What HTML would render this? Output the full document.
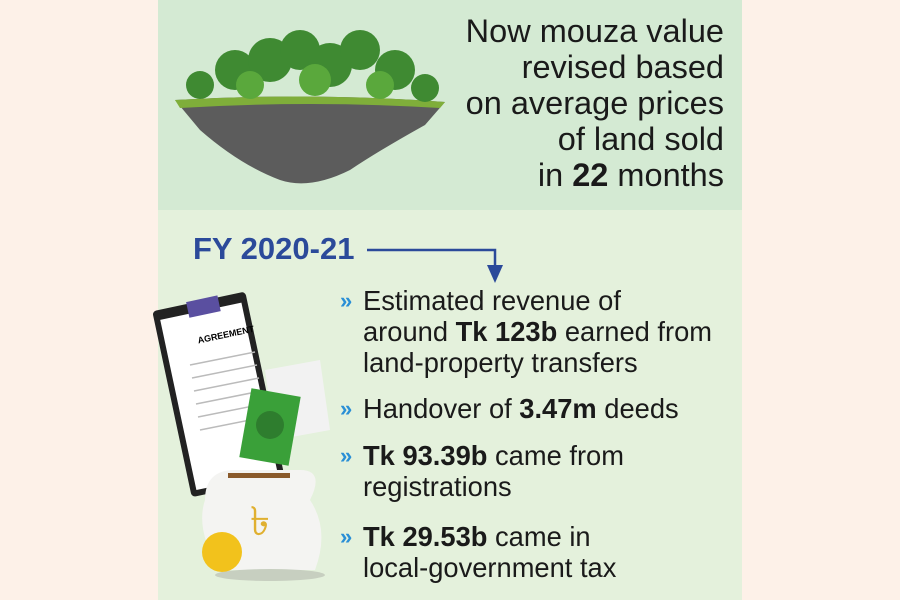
<!DOCTYPE html>
<html><head><meta charset="utf-8"><style>
body{margin:0;width:900px;height:600px;background:#fdf1e8;position:relative;overflow:hidden;font-family:"Liberation Sans",sans-serif}
.p{position:absolute;left:158px;width:584px}
.t{position:absolute;right:176px;top:13px;text-align:right;font-size:32.5px;line-height:36px;color:#1a1a1a}
.b{position:absolute;left:363px;font-size:27.3px;line-height:31px;color:#1a1a1a;white-space:nowrap}
.c{position:absolute;left:340px;color:#2a8fd6;font-size:22px;font-weight:bold;line-height:31px}
</style></head><body>
<div class="p" style="top:0;height:210px;background:#d4ead3"></div>
<div class="p" style="top:210px;height:390px;background:#e4f1dc"></div>
<svg style="position:absolute;left:0;top:0" width="900" height="600">
<path d="M175 100 Q310 92 445 102 L425 125 Q380 150 350 170 Q310 190 280 180 Q240 165 200 130Z" fill="#5c5c5c"/>
<path d="M175 100 Q310 92 445 102 L440 108 Q310 100 180 108Z" fill="#7fae3a"/>
<g fill="#3f8a32"><circle cx="200" cy="85" r="14"/><circle cx="235" cy="70" r="20"/><circle cx="270" cy="60" r="22"/><circle cx="300" cy="50" r="20"/><circle cx="330" cy="65" r="22"/><circle cx="360" cy="50" r="20"/><circle cx="395" cy="70" r="20"/><circle cx="425" cy="88" r="14"/></g>
<g fill="#5aa83c"><circle cx="250" cy="85" r="14"/><circle cx="315" cy="80" r="16"/><circle cx="380" cy="85" r="14"/></g>
<path d="M367 250 H495 V268" stroke="#2b4a9a" stroke-width="2.5" fill="none"/>
<path d="M487 265 L503 265 L495 283Z" fill="#2b4a9a"/>
<g transform="rotate(-12 215 390)"><rect x="170" y="300" width="95" height="190" fill="#222" rx="4"/><rect x="176" y="310" width="83" height="174" fill="#fff"/></g>
<rect x="205" y="298" width="32" height="16" fill="#5a4fa0" transform="rotate(-12 215 390)"/>
<text x="198" y="340" font-size="9" font-weight="bold" transform="rotate(-12 215 340)" font-family="Liberation Sans">AGREEMENT</text>
<g stroke="#bbb" stroke-width="1.5"><line x1="190" y1="365" x2="255" y2="352"/><line x1="192" y1="378" x2="257" y2="365"/><line x1="194" y1="391" x2="259" y2="378"/><line x1="196" y1="404" x2="261" y2="391"/><line x1="198" y1="417" x2="263" y2="404"/><line x1="200" y1="430" x2="265" y2="417"/></g>
<path d="M265 370 L320 360 L330 430 L275 440Z" fill="#f2f2f2"/>
<rect x="245" y="392" width="50" height="70" fill="#3aa039" transform="rotate(10 270 427)"/>
<circle cx="270" cy="425" r="14" fill="#2e7d2e"/>
<path d="M205 500 Q205 470 235 470 L300 470 Q325 470 310 500 Q330 530 315 570 L220 570 Q195 530 205 500Z" fill="#f4f4f2"/>
<rect x="228" y="473" width="62" height="5" fill="#8a5a2b"/>
<text x="250" y="535" font-size="40" fill="#e0b030" font-family="Liberation Sans">৳</text>
<ellipse cx="270" cy="575" rx="55" ry="6" fill="#c7cfc0"/>
<circle cx="222" cy="552" r="20" fill="#f2c21c"/>
</svg>
<div class="t">Now mouza value<br>revised based<br>on average prices<br>of land sold<br>in <b>22</b> months</div>
<div style="position:absolute;left:193px;top:231px;font-size:31px;font-weight:bold;color:#2b4a9a">FY 2020-21</div>
<div class="c" style="top:285px">»</div>
<div class="b" style="top:285px">Estimated revenue of<br>around <b>Tk 123b</b> earned from<br>land-property transfers</div>
<div class="c" style="top:393px">»</div>
<div class="b" style="top:393px">Handover of <b>3.47m</b> deeds</div>
<div class="c" style="top:440px">»</div>
<div class="b" style="top:440px"><b>Tk 93.39b</b> came from<br>registrations</div>
<div class="c" style="top:521px">»</div>
<div class="b" style="top:521px"><b>Tk 29.53b</b> came in<br>local-government tax</div>
</body></html>
